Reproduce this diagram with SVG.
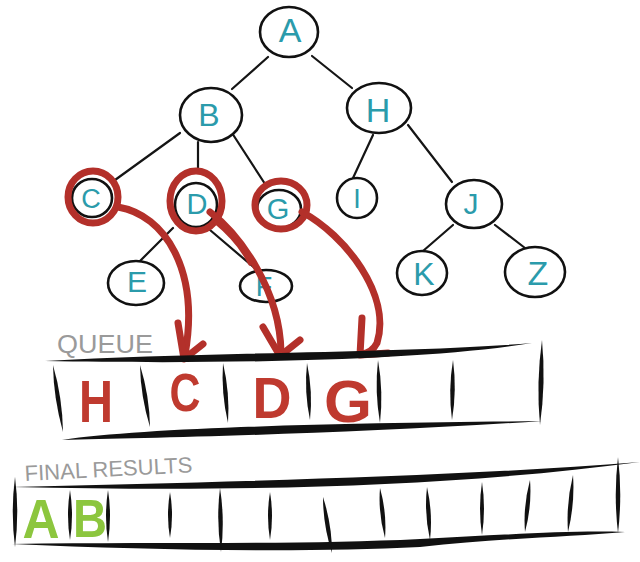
<svg xmlns="http://www.w3.org/2000/svg" width="640" height="562" viewBox="0 0 640 562">
<style>
.bg{fill:#ffffff}
.edge{stroke:#151515;stroke-width:2.2;fill:none;stroke-linecap:round}
.node ellipse{fill:#ffffff;stroke:#111111;stroke-width:2.6}
.lbl{font-family:"Liberation Sans",Arial,sans-serif;fill:#2b9bab;text-anchor:middle}
.ring{fill:none;stroke:#b3302a;stroke-width:7}
.arrow{fill:none;stroke:#b3302a;stroke-width:7;stroke-linecap:round;stroke-linejoin:round}
.brush{fill:#111111}
.caption{font-family:"Liberation Sans",Arial,sans-serif;fill:#9a9a9a}
.qlet{font-family:"Liberation Sans",Arial,sans-serif;font-weight:bold;fill:#bf3a2f;text-anchor:middle}
.flet{font-family:"Liberation Sans",Arial,sans-serif;font-weight:bold;fill:#8cc63e;text-anchor:middle}
</style>
<rect class="bg" x="0" y="0" width="640" height="562"/>

<g id="edges">
<line class="edge" x1="268" y1="57" x2="232" y2="89"/>
<line class="edge" x1="312" y1="56" x2="352" y2="88"/>
<line class="edge" x1="180" y1="133" x2="115" y2="180"/>
<line class="edge" x1="198" y1="142" x2="198" y2="172"/>
<line class="edge" x1="232" y1="133" x2="267" y2="187"/>
<line class="edge" x1="373" y1="135" x2="353" y2="178"/>
<line class="edge" x1="408" y1="125" x2="452" y2="182"/>
<line class="edge" x1="173" y1="228" x2="140" y2="261"/>
<line class="edge" x1="210" y1="230" x2="257" y2="270"/>
<line class="edge" x1="453" y1="225" x2="423" y2="251"/>
<line class="edge" x1="495" y1="225" x2="525" y2="248"/>
</g>

<g id="node-A" class="node"><ellipse cx="289" cy="32" rx="29" ry="25"/><text class="lbl" x="290" y="42" font-size="34">A</text></g>
<g id="node-B" class="node"><ellipse cx="211" cy="115" rx="31" ry="27"/><text class="lbl" x="209" y="126" font-size="32">B</text></g>
<g id="node-H" class="node"><ellipse cx="379" cy="108" rx="32" ry="25"/><text class="lbl" x="378" y="122" font-size="34">H</text></g>
<g id="node-C" class="node"><ellipse cx="92" cy="198" rx="20" ry="19"/><text class="lbl" x="91" y="208" font-size="27">C</text></g>
<g id="node-D" class="node"><ellipse cx="196" cy="205" rx="21" ry="22"/><text class="lbl" x="197" y="214" font-size="29">D</text></g>
<g id="node-G" class="node"><ellipse cx="279" cy="209" rx="22" ry="19"/><text class="lbl" x="278" y="219" font-size="29">G</text></g>
<g id="node-I" class="node"><ellipse cx="357" cy="198" rx="20" ry="20"/><text class="lbl" x="357" y="208" font-size="27">I</text></g>
<g id="node-J" class="node"><ellipse cx="474" cy="204" rx="28" ry="24"/><text class="lbl" x="471" y="214" font-size="30">J</text></g>
<g id="node-E" class="node"><ellipse cx="136" cy="283" rx="28" ry="22"/><text class="lbl" x="137" y="292" font-size="30">E</text></g>
<g id="node-F" class="node"><ellipse cx="266" cy="286" rx="26" ry="16"/><text class="lbl" x="264" y="296" font-size="27">F</text></g>
<g id="node-K" class="node"><ellipse cx="422" cy="273" rx="25" ry="22"/><text class="lbl" x="424" y="285" font-size="32">K</text></g>
<g id="node-Z" class="node"><ellipse cx="535" cy="272" rx="30" ry="25"/><text class="lbl" x="538" y="285" font-size="34">Z</text></g>

<g id="highlights">
<ellipse class="ring" cx="93" cy="197" rx="25" ry="26"/>
<ellipse class="ring" cx="196" cy="201" rx="26" ry="30"/>
<ellipse class="ring" cx="281" cy="205" rx="26" ry="24"/>
</g>

<g id="arrows">
<path class="arrow" d="M118 207C165 215 200 270 185 355"/>
<path class="arrow" d="M178 323L184 359L203 344"/>
<path class="arrow" d="M210 212C240 235 280 290 281 352"/>
<path class="arrow" style="stroke-width:3.5" d="M215 222C232 236 243 250 250 264"/>
<path class="arrow" d="M263 327L280 356L300 340"/>
<path class="arrow" d="M302 212C345 235 392 295 377 343Q372 353 361 354"/>
<path class="arrow" d="M362 318L360 355L388 353"/>
</g>

<g id="queue">
<text class="caption" x="57" y="353" font-size="26" textLength="96" lengthAdjust="spacingAndGlyphs">QUEUE</text>
<path class="brush" d="M45 361C200 352 420 353 532 343C420 362 200 364 45 361Z"/>
<path class="brush" d="M62 440C150 427 350 423 542 421C350 434 150 438 62 440Z"/>
<path class="brush" d="M53 365Q62.5 398 63 432Q53.5 398 53 365Z"/>
<path class="brush" d="M140 365Q149.5 396 150 427Q140.5 396 140 365Z"/>
<path class="brush" d="M223 363Q230 393 228 423Q221 393 223 363Z"/>
<path class="brush" d="M307 363Q313 391.5 310 420Q304 391.5 307 363Z"/>
<path class="brush" d="M378 360Q383.5 391.5 380 423Q374.5 391.5 378 360Z"/>
<path class="brush" d="M453 360Q457 390 452 420Q448 390 453 360Z"/>
<path class="brush" d="M542 340Q546 382.5 540 425Q536 382.5 542 340Z"/>
<text class="qlet" x="96" y="422" font-size="60" textLength="34" lengthAdjust="spacingAndGlyphs">H</text>
<text class="qlet" x="185" y="411" font-size="54" textLength="31" lengthAdjust="spacingAndGlyphs">C</text>
<text class="qlet" x="272" y="418" font-size="58" textLength="39" lengthAdjust="spacingAndGlyphs">D</text>
<text class="qlet" x="348" y="422" font-size="60" textLength="48" lengthAdjust="spacingAndGlyphs">G</text>
</g>

<g id="final-results">
<text class="caption" x="25" y="481" font-size="22" textLength="168" lengthAdjust="spacingAndGlyphs" transform="rotate(-3 25 481)">FINAL RESULTS</text>
<path class="brush" d="M12 487C250 481 450 477 640 462C450 487 250 492 12 487Z"/>
<path class="brush" d="M12 544C150 542 300 545 420 539C500 535 570 530 625 532C570 537 500 538 420 547C300 553 150 550 12 544Z"/>
<path class="brush" d="M15 477Q19.5 512 15 547Q10.5 512 15 477Z"/>
<path class="brush" d="M70 490Q74 515 70 540Q66 515 70 490Z"/>
<path class="brush" d="M108 490Q112 516 108 542Q104 516 108 490Z"/>
<path class="brush" d="M170 492Q174 515 170 538Q166 515 170 492Z"/>
<path class="brush" d="M220 488Q225 520 221 552Q216 520 220 488Z"/>
<path class="brush" d="M270 492Q274 516 270 540Q266 516 270 492Z"/>
<path class="brush" d="M323 497Q332 525 332 553Q323 525 323 497Z"/>
<path class="brush" d="M380 488Q387 513 385 538Q378 513 380 488Z"/>
<path class="brush" d="M427 487Q433 513.5 430 540Q424 513.5 427 487Z"/>
<path class="brush" d="M482 482Q486 508.5 482 535Q478 508.5 482 482Z"/>
<path class="brush" d="M530 480Q532 506 525 532Q523 506 530 480Z"/>
<path class="brush" d="M573 475Q575 503.5 568 532Q566 503.5 573 475Z"/>
<path class="brush" d="M618 457Q622.5 495 618 533Q613.5 495 618 457Z"/>
<text class="flet" x="41" y="538" font-size="56" textLength="37" lengthAdjust="spacingAndGlyphs">A</text>
<text class="flet" x="90" y="537" font-size="54" textLength="34" lengthAdjust="spacingAndGlyphs">B</text>
</g>
</svg>
